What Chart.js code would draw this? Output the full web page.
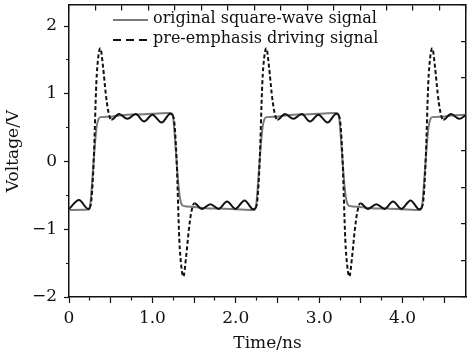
<!DOCTYPE html>
<html>
<head>
<meta charset="utf-8">
<script src="https://cdn.jsdelivr.net/npm/chart.js@4.4.1/dist/chart.umd.min.js"></script>
<style>
  body { margin: 0; background: #fff; }
  #wrap { width: 474px; height: 358px; }
</style>
</head>
<body>
<div id="wrap"><canvas id="signal-chart"></canvas></div>
<script>
// original square-wave signal (ns, V)
var timeOrig = [0.00, 0.235, 0.255, 0.275, 0.295, 0.315, 0.335, 0.355, 0.375, 0.50, 0.60, 0.80, 1.00, 1.215,
  1.23, 1.25, 1.27, 1.29, 1.31, 1.33, 1.35, 1.37, 1.50, 1.60, 1.80, 2.00, 2.21,
  2.225, 2.245, 2.265, 2.285, 2.305, 2.325, 2.345, 2.365, 2.49, 2.59, 2.79, 2.99, 3.205,
  3.22, 3.24, 3.26, 3.28, 3.30, 3.32, 3.34, 3.36, 3.49, 3.59, 3.79, 3.99, 4.20,
  4.215, 4.235, 4.255, 4.275, 4.295, 4.315, 4.335, 4.355, 4.48, 4.58, 4.76]
var voltOrig = [-0.715, -0.71, -0.64, -0.35, 0.00, 0.32, 0.54, 0.63, 0.655, 0.66, 0.68, 0.695, 0.705, 0.715,
  0.71, 0.64, 0.35, 0.00, -0.32, -0.54, -0.63, -0.655, -0.67, -0.685, -0.695, -0.705, -0.715,
  -0.71, -0.64, -0.35, 0.00, 0.32, 0.54, 0.63, 0.655, 0.66, 0.68, 0.695, 0.705, 0.715,
  0.71, 0.64, 0.35, 0.00, -0.32, -0.54, -0.63, -0.655, -0.67, -0.685, -0.695, -0.705, -0.715,
  -0.71, -0.64, -0.35, 0.00, 0.32, 0.54, 0.63, 0.655, 0.66, 0.68, 0.69]

// pre-emphasis driving signal (ns, V)
var timeEmph = [0.00, 0.12, 0.23, 0.25, 0.27, 0.296, 0.328, 0.352, 0.376, 0.408, 0.44, 0.468, 0.508,
  0.60, 0.70, 0.80, 0.90, 1.00, 1.11, 1.215,
  1.245, 1.265, 1.291, 1.323, 1.347, 1.371, 1.403, 1.435, 1.463, 1.503,
  1.595, 1.695, 1.795, 1.895, 1.995, 2.105, 2.21,
  2.24, 2.26, 2.286, 2.318, 2.342, 2.366, 2.398, 2.43, 2.458, 2.498,
  2.59, 2.69, 2.79, 2.89, 2.99, 3.10, 3.205,
  3.235, 3.255, 3.281, 3.313, 3.337, 3.361, 3.393, 3.425, 3.453, 3.493,
  3.585, 3.685, 3.785, 3.885, 3.985, 4.095, 4.20,
  4.23, 4.25, 4.276, 4.308, 4.332, 4.356, 4.388, 4.42, 4.448, 4.488,
  4.58, 4.68, 4.76]
var voltEmph = [-0.70, -0.57, -0.70, -0.68, -0.55, 0.00, 1.16, 1.55, 1.67, 1.40, 1.01, 0.76, 0.615,
  0.70, 0.63, 0.70, 0.59, 0.69, 0.575, 0.705,
  0.68, 0.55, 0.00, -1.16, -1.55, -1.70, -1.42, -1.03, -0.77, -0.615,
  -0.70, -0.63, -0.70, -0.59, -0.70, -0.575, -0.705,
  -0.68, -0.55, 0.00, 1.16, 1.55, 1.67, 1.40, 1.01, 0.76, 0.615,
  0.70, 0.63, 0.70, 0.59, 0.69, 0.575, 0.705,
  0.68, 0.55, 0.00, -1.16, -1.55, -1.70, -1.42, -1.03, -0.77, -0.615,
  -0.70, -0.63, -0.70, -0.59, -0.70, -0.575, -0.705,
  -0.68, -0.55, 0.00, 1.16, 1.55, 1.67, 1.40, 1.01, 0.76, 0.615,
  0.70, 0.63, 0.69]

var xTickLabels = ['0', '1.0', '2.0', '3.0', '4.0']
var yTickLabels = {'-2': '\u22122', '-1': '\u22121', '0': '0', '1': '1', '2': '2'}

var serif = '"DejaVu Serif", serif'

var toPoints = function(xs, ys) {
  return xs.map(function(t, i) { return {x: t, y: ys[i]} })
}

var onStep = function(v, step) {
  return Math.abs(v / step - Math.round(v / step)) < 1e-6
}

// dashed only where the trace is steep, like the original plot
var steepDash = function(ctx) {
  var dx = ctx.p1.parsed.x - ctx.p0.parsed.x
  var dy = ctx.p1.parsed.y - ctx.p0.parsed.y
  return Math.abs(dy / dx) > 2.5 ? [4, 2.5] : undefined
}

var insideLegend = {
  id: 'insideLegend',
  afterDatasetsDraw: function(chart) {
    var ctx = chart.ctx
    chart.data.datasets.forEach(function(ds, i) {
      var y = 20 + i * 20
      ctx.save()
      ctx.strokeStyle = ds.borderColor
      ctx.lineWidth = ds.borderWidth
      ctx.setLineDash(ds.legendDash || [])
      ctx.beginPath()
      ctx.moveTo(113, y)
      ctx.lineTo(148, y)
      ctx.stroke()
      ctx.setLineDash([])
      ctx.fillStyle = '#111'
      ctx.font = '16px ' + serif
      ctx.textBaseline = 'middle'
      ctx.fillText(ds.label, 153, y - 1)
      ctx.restore()
    })
  }
}

var chart = new Chart(document.getElementById('signal-chart'), {
  type: 'line',
  data: {
    datasets: [{
      label: 'original square-wave signal',
      data: toPoints(timeOrig, voltOrig),
      borderColor: '#7a7a7a',
      borderWidth: 2,
      pointRadius: 0,
      cubicInterpolationMode: 'monotone',
      order: 1
    }, {
      label: 'pre-emphasis driving signal',
      data: toPoints(timeEmph, voltEmph),
      borderColor: '#111',
      borderWidth: 2,
      pointRadius: 0,
      cubicInterpolationMode: 'monotone',
      legendDash: [8, 5],
      segment: { borderDash: steepDash },
      order: 0
    }]
  },
  options: {
    responsive: true,
    maintainAspectRatio: false,
    animation: false,
    devicePixelRatio: 1,
    layout: { padding: { top: 5, right: 8, left: 0, bottom: 0 } },
    plugins: { legend: { display: false }, tooltip: { enabled: false } },
    scales: {
      x: {
        type: 'linear',
        position: 'bottom',
        min: 0,
        max: 4.76,
        afterFit: function(s) { s.height = 61; s.paddingLeft = 0; s.paddingRight = 0 },
        border: { color: '#111', width: 1.5 },
        grid: {
          drawOnChartArea: false,
          tickLength: 6,
          tickWidth: 1.2,
          tickColor: function(c) { return c.tick && onStep(c.tick.value, 0.25) ? '#111' : 'rgba(0,0,0,0)' },
          tickBorderDash: function(c) { return c.tick && onStep(c.tick.value, 0.5) ? [] : [3, 100] }
        },
        ticks: {
          stepSize: 0.25,
          autoSkip: false,
          maxRotation: 0,
          padding: 5,
          color: '#111',
          font: { family: serif, size: 17 },
          callback: function(v) { return onStep(v, 1) ? xTickLabels[Math.round(v)] : '' }
        },
        title: {
          display: true,
          text: 'Time/ns',
          color: '#111',
          font: { family: serif, size: 17 },
          padding: { top: 0, bottom: 4 }
        }
      },
      y: {
        type: 'linear',
        position: 'left',
        min: -2,
        max: 2.31,
        afterFit: function(s) { s.width = 69; s.paddingTop = 0; s.paddingBottom = 0 },
        border: { color: '#111', width: 1.5 },
        grid: {
          drawOnChartArea: false,
          tickLength: 5,
          tickWidth: 1.2,
          tickColor: function(c) { return c.tick && onStep(c.tick.value, 0.5) ? '#111' : 'rgba(0,0,0,0)' },
          tickBorderDash: function(c) { return c.tick && onStep(c.tick.value, 1) ? [] : [0, 2, 3, 100] }
        },
        ticks: {
          stepSize: 0.5,
          autoSkip: false,
          padding: 7,
          color: '#111',
          font: { family: serif, size: 17 },
          callback: function(v) { return onStep(v, 1) ? yTickLabels[String(Math.round(v))] : '' }
        },
        title: {
          display: true,
          text: 'Voltage/V',
          color: '#111',
          font: { family: serif, size: 17 },
          padding: { top: 3, bottom: 0 }
        }
      },
      xTop: {
        type: 'linear',
        position: 'top',
        min: 0,
        max: 15,
        afterFit: function(s) { s.height = 0; s.paddingLeft = 0; s.paddingRight = 0 },
        border: {
          color: '#111',
          width: 1.5,
          dash: [5, 1000]
        },
        grid: { drawTicks: false, color: '#111', lineWidth: 1.2 },
        ticks: { display: false, stepSize: 1 }
      },
      yRight: {
        type: 'linear',
        position: 'right',
        min: 0,
        max: 8,
        afterFit: function(s) { s.width = 0; s.paddingTop = 0; s.paddingBottom = 0 },
        border: {
          color: '#111',
          width: 1.5,
          dash: function(c) {
            var a = c.chart.chartArea
            if (!a) return []
            return [0, a.right - a.left - 5, 5, 1000]
          }
        },
        grid: { drawTicks: false, color: '#111', lineWidth: 1.2 },
        ticks: { display: false, stepSize: 1 }
      }
    }
  },
  plugins: [insideLegend]
})
</script>
</body>
</html>
